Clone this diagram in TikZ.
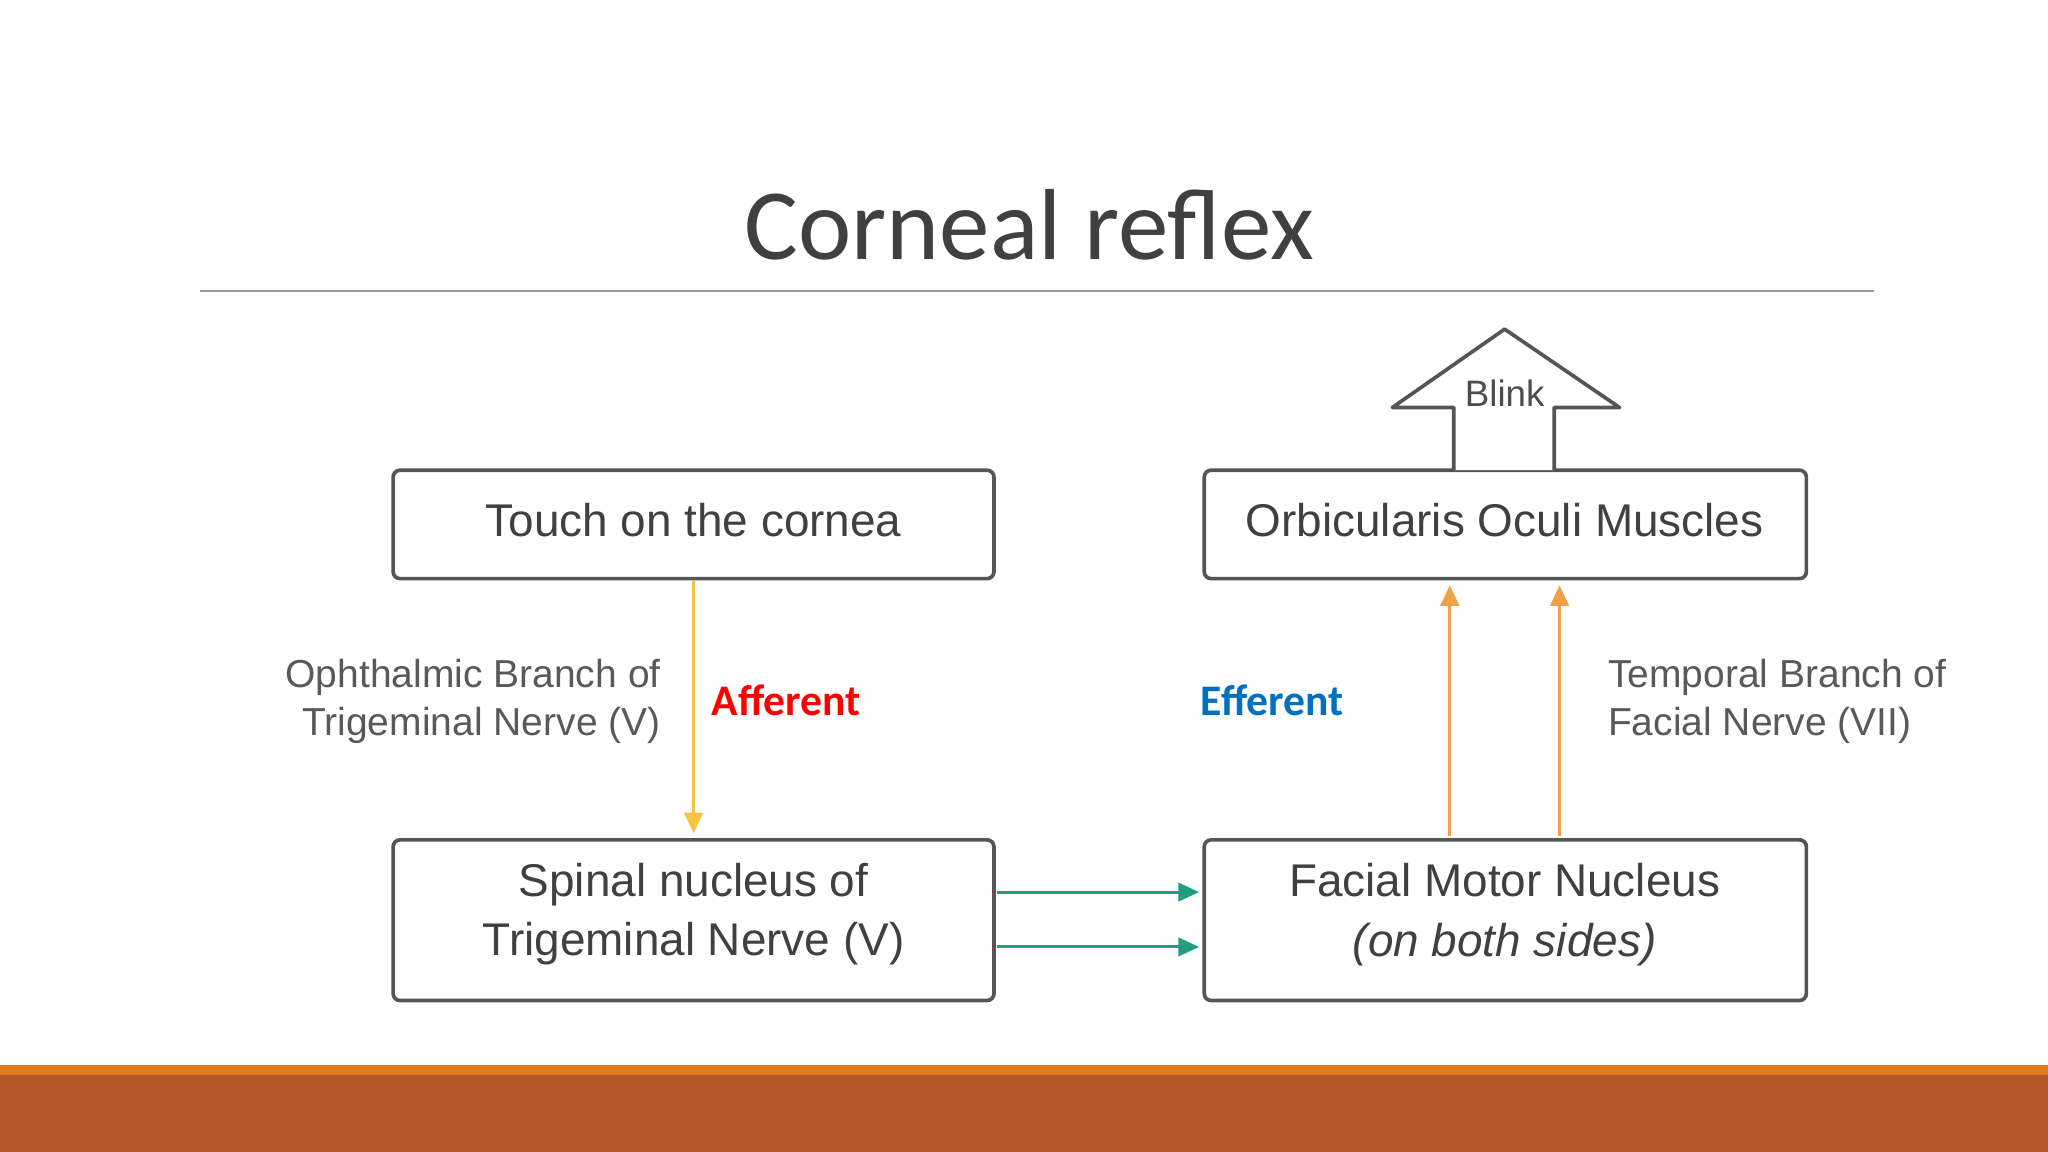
\documentclass[tikz,border=0pt]{standalone}
\usepackage{fontspec}
\setmainfont{Liberation Sans}
\newfontfamily\calib{Carlito}
\usetikzlibrary{arrows.meta}
\definecolor{boxline}{HTML}{555555}
\definecolor{yel}{HTML}{F5C342}
\definecolor{org}{HTML}{F0A04B}
\definecolor{grn}{HTML}{1E9E82}
\definecolor{band}{HTML}{E07B1B}
\definecolor{brown}{HTML}{B6572A}
\definecolor{effblue}{HTML}{0070C0}
\tikzset{
 box/.style={draw=boxline,line width=1.6pt,rounded corners=3pt},
 btext/.style={text=black!75,font=\fontsize{20}{26}\selectfont,align=center},
 lbl/.style={text=black!65,font=\fontsize{17}{21}\selectfont},
 conn/.style={line width=1.3pt,-{Triangle[length=9pt,width=8pt]}}
}
\begin{document}
\begin{tikzpicture}[x=0.02cm,y=-0.02cm]
\useasboundingbox (0,0) rectangle (1568,882);
\fill[white] (0,0) rectangle (1568,882);
\fill[band] (0,815) rectangle (1568,823);
\fill[brown] (0,823) rectangle (1568,882);
\node (title) at (788,172) {\calib\fontsize{44}{50}\selectfont\color{black!75}Corneal reflex};
\draw[black!40,line width=0.8pt] (153,223) -- (1435,223);
\draw[box] (301,360) rectangle (761,443);
\node[btext] (t1) at (531,398) {Touch on the cornea};
\draw[box] (922,360) rectangle (1383,443);
\node[btext] (t2) at (1152,398) {Orbicularis Oculi Muscles};
\draw[box] (301,643) rectangle (761,766);
\node[btext] (t3) at (531,700) {Spinal nucleus of\\Trigeminal Nerve (V)};
\draw[box] (922,643) rectangle (1383,766);
\node[btext] (t4) at (1152,700) {Facial Motor Nucleus\\\textit{(on both sides)}};
\draw[boxline,line width=1.6pt,line join=round,fill=white] (1113,360) -- (1113,312) -- (1066,312) -- (1152,252) -- (1240,312) -- (1190,312) -- (1190,360);
\node[text=black!70,font=\fontsize{16}{20}\selectfont] (blink) at (1152,301) {Blink};
\coordinate (ya) at (531,445); \coordinate (yb) at (531,638);
\draw[conn,yel] (ya) -- (yb);
\coordinate (o1a) at (1110,640); \coordinate (o1b) at (1110,448);
\coordinate (o2a) at (1194,640); \coordinate (o2b) at (1194,448);
\draw[conn,org] (o1a) -- (o1b);
\draw[conn,org] (o2a) -- (o2b);
\coordinate (g1a) at (763,683); \coordinate (g1b) at (918,683);
\coordinate (g2a) at (763,725); \coordinate (g2b) at (918,725);
\draw[conn,grn] (g1a) -- (g1b);
\draw[conn,grn] (g2a) -- (g2b);
\node[lbl,align=right,anchor=east] (oph) at (512,537) {Ophthalmic Branch of\\Trigeminal Nerve (V)};
\node[lbl,align=left,anchor=west] (temp) at (1225,537) {Temporal Branch of\\Facial Nerve (VII)};
\node (aff) at (602,536) {\calib\bfseries\fontsize{19}{22}\selectfont\color{red}Afferent};
\node (eff) at (974,536) {\calib\bfseries\fontsize{19}{22}\selectfont\color{effblue}Efferent};
\end{tikzpicture}
\end{document}
